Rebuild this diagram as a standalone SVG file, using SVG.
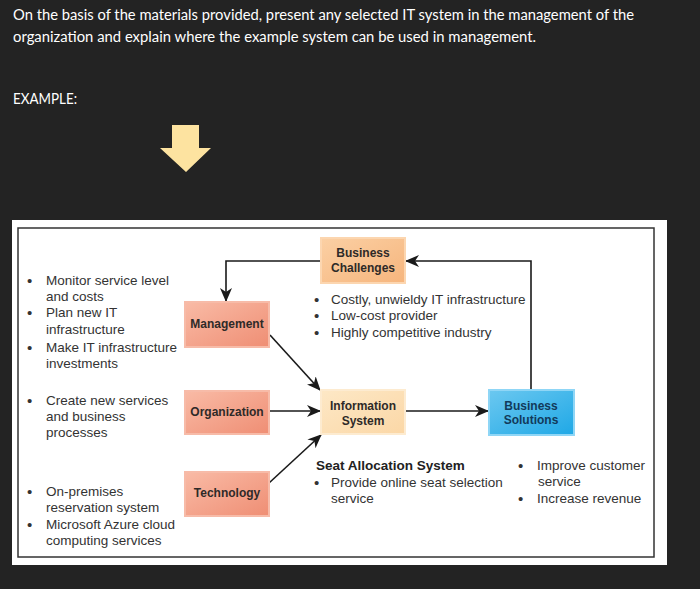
<svg xmlns="http://www.w3.org/2000/svg" width="700" height="589" viewBox="0 0 700 589">
<defs>
<style>
.hdr{font-family:Lato,"Open Sans","Liberation Sans",sans-serif;font-size:14.5px;fill:#ffffff}
.t{font-family:"Liberation Sans",Arial,sans-serif;font-size:13.5px;fill:#333333}
.bl{font-family:"Liberation Sans",Arial,sans-serif;font-size:15px;fill:#333333}
.b{font-family:"Liberation Sans",Arial,sans-serif;font-size:12px;font-weight:bold;fill:#2e2a28;text-anchor:middle}
.sb{font-family:"Liberation Sans",Arial,sans-serif;font-size:12px;font-weight:bold;fill:#123a5a;text-anchor:middle}
.hd{font-family:"Liberation Sans",Arial,sans-serif;font-size:13.5px;font-weight:bold;fill:#222222}
.red{fill:url(#gRed);stroke:#f7bba8;stroke-width:2}
.org{fill:url(#gOrg);stroke:#fcd6b0;stroke-width:2}
.yel{fill:url(#gYel);stroke:#fdebd0;stroke-width:2}
.blu{fill:url(#gBlu);stroke:#8fd6f6;stroke-width:2}
.ln{fill:none;stroke:#1a1a1a;stroke-width:1.6}
</style>
<linearGradient id="gRed" x1="0" y1="0" x2="1" y2="1"><stop offset="0" stop-color="#f9bba6"/><stop offset="1" stop-color="#ef8e74"/></linearGradient>
<linearGradient id="gOrg" x1="0" y1="0" x2="1" y2="1"><stop offset="0" stop-color="#fbd0a4"/><stop offset="1" stop-color="#f6b57d"/></linearGradient>
<linearGradient id="gYel" x1="0" y1="0" x2="1" y2="1"><stop offset="0" stop-color="#fde8c6"/><stop offset="1" stop-color="#fbd7a6"/></linearGradient>
<linearGradient id="gBlu" x1="0" y1="0" x2="1" y2="1"><stop offset="0" stop-color="#6cc8f0"/><stop offset="1" stop-color="#1fa8e6"/></linearGradient>
<marker id="ah" viewBox="0 0 14 12" refX="13" refY="6" markerWidth="14" markerHeight="12" markerUnits="userSpaceOnUse" orient="auto">
<path d="M0,0 L14,6 L0,12 L4,6 z" fill="#1a1a1a"/>
</marker>
</defs>
<rect x="0" y="0" width="700" height="589" fill="#232323"/>
<text class="hdr" x="13" y="20" textLength="621" lengthAdjust="spacingAndGlyphs">On the basis of the materials provided, present any selected IT system in the management of the</text>
<text class="hdr" x="13" y="42" textLength="523" lengthAdjust="spacingAndGlyphs">organization and explain where the example system can be used in management.</text>
<text class="hdr" x="13" y="104" textLength="64" lengthAdjust="spacingAndGlyphs">EXAMPLE:</text>
<path d="M172,125 L199,125 L199,148 L211,148 L186,172 L160,148 L172,148 z" fill="#fde3a0"/>
<rect x="12" y="220" width="655" height="345" fill="#ffffff"/>
<rect x="18" y="228" width="636" height="329" fill="none" stroke="#333333" stroke-width="1.5"/>
<g id="connectors">
<path class="ln" d="M321,261 L226,261 L226,301" marker-end="url(#ah)"/>
<path class="ln" d="M531,390 L531,261 L406,261" marker-end="url(#ah)"/>
<path class="ln" d="M270,335 L320,390" marker-end="url(#ah)"/>
<path class="ln" d="M269,411 L320,411" marker-end="url(#ah)"/>
<path class="ln" d="M269,483 L321,435" marker-end="url(#ah)"/>
<path class="ln" d="M405,411 L488,411" marker-end="url(#ah)"/>
</g>
<g id="business-challenges">
<rect class="org" x="321" y="238" width="84" height="45"/>
<text class="b" x="363" y="257">Business</text>
<text class="b" x="363" y="272">Challenges</text>
</g>
<g id="management">
<rect class="red" x="185" y="302" width="84" height="45"/>
<text class="b" x="227" y="328">Management</text>
</g>
<g id="organization">
<rect class="red" x="185" y="391" width="84" height="43"/>
<text class="b" x="227" y="416">Organization</text>
</g>
<g id="technology">
<rect class="red" x="185" y="472" width="84" height="44"/>
<text class="b" x="227" y="497">Technology</text>
</g>
<g id="information-system">
<rect class="yel" x="321" y="390" width="84" height="44"/>
<text class="b" x="363" y="410">Information</text>
<text class="b" x="363" y="425">System</text>
</g>
<g id="business-solutions">
<rect class="blu" x="489" y="390" width="85" height="45"/>
<text class="sb" x="531" y="410">Business</text>
<text class="sb" x="531" y="424">Solutions</text>
</g>
<g id="management-notes">
<text class="bl" x="27" y="286">•</text><text class="t" x="46" y="285">Monitor service level</text>
<text class="t" x="46" y="301">and costs</text>
<text class="bl" x="27" y="318">•</text><text class="t" x="46" y="317">Plan new IT</text>
<text class="t" x="46" y="334">infrastructure</text>
<text class="bl" x="27" y="353">•</text><text class="t" x="46" y="352">Make IT infrastructure</text>
<text class="t" x="46" y="368">investments</text>
</g>
<g id="organization-notes">
<text class="bl" x="27" y="406">•</text><text class="t" x="46" y="405">Create new services</text>
<text class="t" x="46" y="421">and business</text>
<text class="t" x="46" y="437">processes</text>
</g>
<g id="technology-notes">
<text class="bl" x="27" y="497">•</text><text class="t" x="46" y="496">On-premises</text>
<text class="t" x="46" y="512">reservation system</text>
<text class="bl" x="27" y="530">•</text><text class="t" x="46" y="529">Microsoft Azure cloud</text>
<text class="t" x="46" y="545">computing services</text>
</g>
<g id="challenge-notes">
<text class="bl" x="314" y="305">•</text><text class="t" x="331" y="304">Costly, unwieldy IT infrastructure</text>
<text class="bl" x="314" y="321">•</text><text class="t" x="331" y="320">Low-cost provider</text>
<text class="bl" x="314" y="338">•</text><text class="t" x="331" y="337">Highly competitive industry</text>
</g>
<g id="system-notes">
<text class="hd" x="316" y="470">Seat Allocation System</text>
<text class="bl" x="314" y="488">•</text><text class="t" x="331" y="487">Provide online seat selection</text>
<text class="t" x="331" y="503">service</text>
</g>
<g id="solution-notes">
<text class="bl" x="518" y="471">•</text><text class="t" x="537" y="470">Improve customer</text>
<text class="t" x="538" y="486">service</text>
<text class="bl" x="518" y="504">•</text><text class="t" x="537" y="503">Increase revenue</text>
</g>
</svg>
